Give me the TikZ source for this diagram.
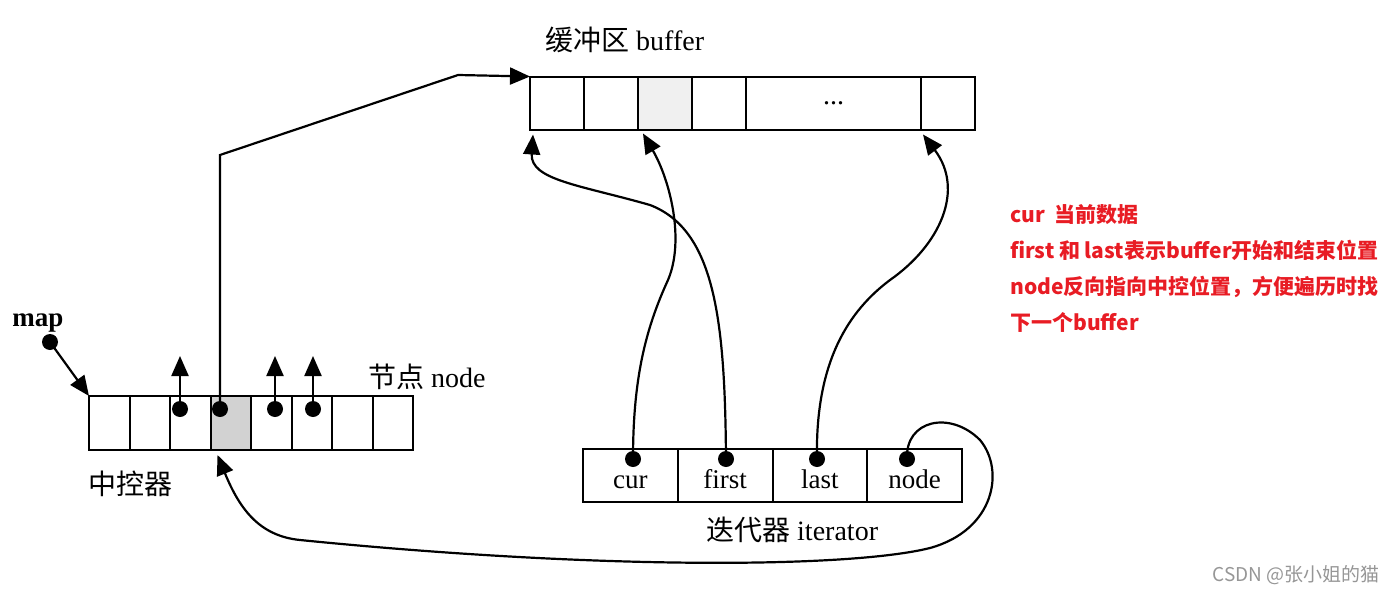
\documentclass[tikz,border=0pt]{standalone}
\usepackage{fontspec}
\setmainfont{Liberation Serif}
\newfontfamily\cjk{Noto Sans CJK SC}
\usetikzlibrary{arrows.meta,positioning}
\definecolor{notered}{RGB}{232,28,36}
\definecolor{markgray}{RGB}{150,150,150}

\tikzset{
  cell/.style={draw, line width=2pt, inner sep=0pt, outer sep=0pt},
  ptr/.style={line width=2.2pt, -{Triangle[length=20pt,width=17pt]}},
  dot/.style={circle, fill, inner sep=0pt, minimum size=16pt},
  lbl/.style={font=\fontsize{28}{28}\selectfont, inner sep=0pt},
}

\begin{document}
\begin{tikzpicture}[x=1pt,y=-1pt]
\useasboundingbox (0,0) rectangle (1394,594);

% buffer
\foreach \i/\xa/\xb/\c in {1/530/584/white, 2/584/638/white, 3/638/692/gray!12, 4/692/746/white, 5/746/921/white, 6/921/975/white} {
  \pgfmathsetmacro\w{\xb-\xa}
  \node[cell, fill=\c, minimum width=\w pt, minimum height=53pt] (b\i) at ({(\xa+\xb)/2},103) {};
}
\node[lbl] at (b5) {...};
\node[lbl, anchor=west] (buftitle) at (545,40) {{\cjk 缓冲区} buffer};

% map
\foreach \i in {1,...,8} {
  \node[cell, minimum width=40.5pt, minimum height=54pt] (m\i) at ({89+40.5*(\i-0.5)},423) {};
}
\node[cell, fill=gray!35, minimum width=40.5pt, minimum height=54pt] (m4) at ({89+40.5*3.5},423) {};
\node[lbl, anchor=west] (nodetitle) at (368,377) {{\cjk 节点} node};
\node[lbl] (ctrltitle) at (130,484) {\cjk 中控器};

\node[lbl, font=\fontsize{27}{27}\selectfont\bfseries] (maplbl) at (38,323) {map};
\node[dot] (mapdot) at (50,342) {};
\draw[ptr] (mapdot.center) -- (m1.north west);

\node[dot] (d3) at (180,409) {};
\node[dot] (d4) at (220,409) {};
\node[dot] (d5) at (275,409) {};
\node[dot] (d6) at (313,409) {};
\foreach \d in {d3,d5,d6}
  \draw[ptr] (\d.center) -- ([yshift=53pt]\d.center);

\coordinate (bend1) at (220,155);
\coordinate (bend2) at (458,75);
\draw[ptr] (d4.center) -- (bend1) -- (bend2) -- (b1.north west);

% iterator
\foreach \i/\t in {1/cur, 2/first, 3/last, 4/node} {
  \node[cell, minimum width=94.75pt, minimum height=53pt, text height=27pt, text depth=2pt, font=\fontsize{27}{27}\selectfont] (it\i) at ({583+94.75*(\i-0.5)},475.5) {\t};
}
\node[lbl, anchor=west] (ittitle) at (706,530) {{\cjk 迭代器} iterator};

\node[dot] (p1) at (633,459) {};
\node[dot] (p2) at (726,459) {};
\node[dot] (p3) at (817,459) {};
\node[dot] (p4) at (907,459) {};

\draw[ptr] (p1.center) .. controls (633,380) and (645,330) .. (668,280)
  .. controls (685,240) and (670,180) .. ([xshift=5pt,yshift=-4pt]b3.south west);
\draw[ptr] (p2.center) .. controls (725,320) and (715,230) .. (650,205)
  .. controls (580,185) and (530,180) .. ([xshift=3pt,yshift=-5pt]b1.south west);
\draw[ptr] (p3.center) .. controls (815,360) and (850,310) .. (890,280)
  .. controls (940,245) and (965,190) .. ([xshift=2pt,yshift=-5pt]b6.south west);
\draw[ptr] (p4.center) .. controls (905,420) and (950,410) .. (980,440)
  .. controls (1005,470) and (995,530) .. (930,548)
  .. controls (850,568) and (600,570) .. (300,540)
  .. controls (260,536) and (240,510) .. ([xshift=7pt,yshift=-5pt]m4.south west);

% notes
\node[anchor=west, align=left, inner sep=0pt, text=notered, font=\cjk\bfseries\fontsize{21}{36}\selectfont] (notes) at (1010,268)
  {cur\ \ 当前数据\\first 和 last表示buffer开始和结束位置\\node反向指向中控位置，方便遍历时找\\下一个buffer};
\node[anchor=east, inner sep=0pt, text=markgray, font=\cjk\fontsize{19}{19}\selectfont] (mark) at (1380,575) {CSDN @张小姐的猫};
\end{tikzpicture}
\end{document}
